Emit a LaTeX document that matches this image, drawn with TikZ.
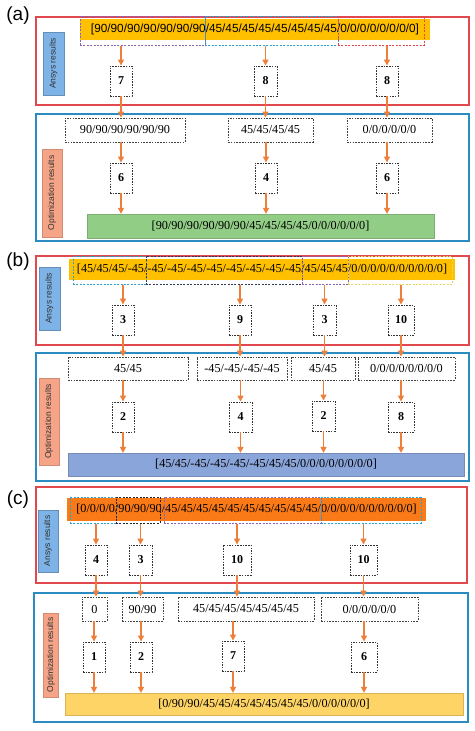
\documentclass[tikz,border=0pt]{standalone}
\usepackage{fontspec}
\setmainfont{Liberation Serif}
\newfontfamily\sansf{Liberation Sans}
\usetikzlibrary{arrows.meta}
\definecolor{frred}{HTML}{E2494E}
\definecolor{frblue}{HTML}{2A8CC0}
\definecolor{arrorange}{HTML}{EE7F3A}
\definecolor{barorange}{HTML}{FFC000}
\definecolor{bardeep}{HTML}{FA7A18}
\definecolor{bargreen}{HTML}{92CD86}
\definecolor{barblue}{HTML}{8AA5DA}
\definecolor{baryellow}{HTML}{FFD466}
\definecolor{lblblue}{HTML}{7DB3E6}
\definecolor{lblsalmon}{HTML}{F6A487}
\definecolor{dpurple}{HTML}{8A63B5}
\definecolor{dcyan}{HTML}{2AA4CC}
\definecolor{dred}{HTML}{E04650}
\definecolor{dnavy}{HTML}{30385A}
\definecolor{dyellow}{HTML}{E6D65A}
\tikzset{
  frame/.style={draw, rectangle, inner sep=0pt, line width=1.1pt},
  redframe/.style={frame, draw=frred},
  blueframe/.style={frame, draw=frblue, line width=1.3pt},
  bar/.style={rectangle, inner sep=0pt, font=\fontsize{12.2}{14}\selectfont},
  seg/.style={draw, rectangle, inner sep=0pt, line width=1pt, dash pattern=on 2pt off 1.4pt},
  numbox/.style={draw=black!80, rectangle, inner sep=0pt, line width=0.95pt, dash pattern=on 1.5pt off 1.2pt, font=\fontsize{12}{14}\selectfont\bfseries},
  rowbox/.style={draw=black!75, rectangle, inner sep=0pt, line width=0.9pt, dash pattern=on 1.6pt off 1.2pt, font=\fontsize{12.2}{14}\selectfont},
  lbl/.style={rectangle, inner sep=0pt, font=\sansf\fontsize{8.5}{10}\selectfont, text=black!80},
  ansys/.style={lbl, fill=lblblue, draw=lblblue!80!black, line width=0.3pt},
  optim/.style={lbl, fill=lblsalmon, draw=lblsalmon!85!black, line width=0.3pt},
  arr/.style={draw=arrorange, line width=1.4pt, -{Triangle[length=6pt,width=6pt,fill=arrorange]}},
  panel/.style={font=\sansf\fontsize{19}{22}\selectfont}
}
\begin{document}
\begin{tikzpicture}[x=1pt,y=-1pt]
\useasboundingbox (0,0) rectangle (474,731);
\fill[white] (0,0) rectangle (474,731);

% ================= (a) =================
\node[panel] (la) at (18,16) {(a)};
\node[redframe, minimum width=433, minimum height=88] (redA) at (252.5,61) {};
\node[bar, fill=barorange, minimum width=350, minimum height=21, font=\sansf\fontsize{11.8}{14}\selectfont] (barA) at (255,29.5) {[90/90/90/90/90/90/90/45/45/45/45/45/45/45/45/0/0/0/0/0/0/0/0]};
\node[seg, draw=dpurple, minimum width=125, minimum height=29] (dA1) at (142.5,30.5) {};
\node[seg, draw=dcyan, minimum width=133, minimum height=29] (dA2) at (271.5,30.5) {};
\node[seg, draw=dred, minimum width=86, minimum height=29] (dA3) at (381,30.5) {};
\node[ansys, minimum width=21, minimum height=63] (ansA) at (53.5,63.5) {\rotatebox{90}{Ansys results}};
\node[numbox, minimum width=22, minimum height=30] (sA1) at (121,81) {7};
\node[numbox, minimum width=23, minimum height=30] (sA2) at (265.5,81) {8};
\node[numbox, minimum width=22, minimum height=30] (sA3) at (387,81) {8};
\node[blueframe, minimum width=433, minimum height=127] (blueA) at (252.5,177.5) {};
\node[rowbox, minimum width=120, minimum height=24] (rA1) at (125,130) {90/90/90/90/90/90};
\node[rowbox, minimum width=85, minimum height=24] (rA2) at (270.5,130) {45/45/45/45};
\node[rowbox, minimum width=85, minimum height=24] (rA3) at (389.5,130) {0/0/0/0/0/0};
\node[optim, minimum width=20, minimum height=88] (optA) at (52,193) {\rotatebox{90}{Optimization results}};
\node[numbox, minimum width=22, minimum height=30] (tA1) at (121,178) {6};
\node[numbox, minimum width=22, minimum height=30] (tA2) at (266,178) {4};
\node[numbox, minimum width=22, minimum height=30] (tA3) at (387,178) {6};
\node[bar, fill=bargreen, draw=bargreen!85!black, line width=0.3pt, minimum width=347, minimum height=24] (grA) at (260.5,226) {[90/90/90/90/90/90/45/45/45/45/0/0/0/0/0/0]};
\foreach \d/\s/\r/\t in {dA1/sA1/rA1/tA1, dA2/sA2/rA2/tA2, dA3/sA3/rA3/tA3}{
  \draw[arr] (\s.north |- \d.south) -- (\s.north);
  \draw[arr] (\s.south) -- (\s.south |- \r.north);
  \draw[arr] (\t.north |- \r.south) -- (\t.north);
  \draw[arr] (\t.south) -- (\t.south |- grA.north);
}

% ================= (b) =================
\node[panel] (lb) at (18,262) {(b)};
\node[redframe, minimum width=433, minimum height=89] (redB) at (252.5,300.5) {};
\node[bar, fill=barorange, minimum width=386, minimum height=21] (barB) at (262,269.5) {[45/45/45/-45/-45/-45/-45/-45/-45/-45/-45/-45/45/45/45/0/0/0/0/0/0/0/0/0/0]};
\node[seg, draw=dcyan, minimum width=73, minimum height=28] (dB1) at (109.5,270) {};
\node[seg, draw=dnavy, minimum width=156, minimum height=28] (dB2) at (224,270) {};
\node[seg, draw=dpurple, minimum width=46, minimum height=28] (dB3) at (325,270) {};
\node[seg, draw=dyellow, minimum width=104, minimum height=28] (dB4) at (400,270) {};
\node[ansys, minimum width=21, minimum height=63] (ansB) at (49.5,298.5) {\rotatebox{90}{Ansys results}};
\node[numbox, minimum width=22, minimum height=30] (sB1) at (123,320) {3};
\node[numbox, minimum width=22, minimum height=30] (sB2) at (240,320) {9};
\node[numbox, minimum width=23, minimum height=30] (sB3) at (324.5,320) {3};
\node[numbox, minimum width=26, minimum height=30] (sB4) at (401,320) {10};
\node[blueframe, minimum width=433, minimum height=128] (blueB) at (252.5,417) {};
\node[rowbox, minimum width=120, minimum height=23] (rB1) at (128,368.5) {45/45};
\node[rowbox, minimum width=90, minimum height=23] (rB2) at (242,368.5) {-45/-45/-45/-45};
\node[rowbox, minimum width=64, minimum height=23] (rB3) at (323,368.5) {45/45};
\node[rowbox, minimum width=97, minimum height=23] (rB4) at (406.5,368.5) {0/0/0/0/0/0/0/0};
\node[optim, minimum width=20, minimum height=87] (optB) at (49,421.5) {\rotatebox{90}{Optimization results}};
\node[numbox, minimum width=22, minimum height=30] (tB1) at (123,417) {2};
\node[numbox, minimum width=23, minimum height=30] (tB2) at (240.5,417) {4};
\node[numbox, minimum width=23, minimum height=30] (tB3) at (323.5,416) {2};
\node[numbox, minimum width=26, minimum height=30] (tB4) at (401,417) {8};
\node[bar, fill=barblue, draw=barblue!85!black, line width=0.3pt, minimum width=396, minimum height=23] (blB) at (266,464.5) {[45/45/-45/-45/-45/-45/45/45/0/0/0/0/0/0/0/0]};
\foreach \d/\s/\r/\t in {dB1/sB1/rB1/tB1, dB2/sB2/rB2/tB2, dB3/sB3/rB3/tB3, dB4/sB4/rB4/tB4}{
  \draw[arr] (\s.north |- \d.south) -- (\s.north);
  \draw[arr] (\s.south) -- (\s.south |- \r.north);
  \draw[arr] (\t.north |- \r.south) -- (\t.north);
  \draw[arr] (\t.south) -- (\t.south |- blB.north);
}

% ================= (c) =================
\node[panel] (lc) at (18,500) {(c)};
\node[redframe, minimum width=431, minimum height=96] (redC) at (251.5,535) {};
\node[bar, fill=bardeep, minimum width=359, minimum height=23] (barC) at (246.5,509.5) {[0/0/0/0/90/90/90/45/45/45/45/45/45/45/45/45/45/0/0/0/0/0/0/0/0/0/0]};
\node[seg, draw=dcyan, minimum width=46, minimum height=26] (dC1) at (93,510) {};
\node[seg, draw=black!85, minimum width=44, minimum height=26] (dC2) at (138,510) {};
\node[seg, draw=dpurple, minimum width=157, minimum height=26] (dC3) at (242.5,510) {};
\node[seg, draw=dcyan, minimum width=100, minimum height=26] (dC4) at (371,510) {};
\node[ansys, minimum width=20, minimum height=62] (ansC) at (48,541) {\rotatebox{90}{Ansys results}};
\node[numbox, minimum width=22, minimum height=30] (sC1) at (96,560) {4};
\node[numbox, minimum width=23, minimum height=30] (sC2) at (140.5,560) {3};
\node[numbox, minimum width=28, minimum height=30] (sC3) at (237,560) {10};
\node[numbox, minimum width=27, minimum height=30] (sC4) at (363.5,560) {10};
\node[blueframe, minimum width=434, minimum height=129] (blueC) at (251,657.5) {};
\node[rowbox, minimum width=25, minimum height=24] (rC1) at (94.5,609) {0};
\node[rowbox, minimum width=41, minimum height=24] (rC2) at (142.5,609) {90/90};
\node[rowbox, minimum width=136, minimum height=24] (rC3) at (246,609) {45/45/45/45/45/45/45};
\node[rowbox, minimum width=97, minimum height=24] (rC4) at (369.5,609) {0/0/0/0/0/0};
\node[optim, minimum width=15, minimum height=84] (optC) at (51,655) {\rotatebox{90}{Optimization results}};
\node[numbox, minimum width=22, minimum height=30] (tC1) at (94,657) {1};
\node[numbox, minimum width=22, minimum height=30] (tC2) at (141,657) {2};
\node[numbox, minimum width=22, minimum height=30] (tC3) at (233,656) {7};
\node[numbox, minimum width=26, minimum height=30] (tC4) at (364,657) {6};
\node[bar, fill=baryellow, draw=baryellow!85!black, line width=0.3pt, minimum width=398, minimum height=22] (ylC) at (264,704) {[0/90/90/45/45/45/45/45/45/45/0/0/0/0/0/0]};
\foreach \d/\s/\r/\t in {dC1/sC1/rC1/tC1, dC2/sC2/rC2/tC2, dC3/sC3/rC3/tC3, dC4/sC4/rC4/tC4}{
  \draw[arr] (\s.north |- \d.south) -- (\s.north);
  \draw[arr] (\s.south) -- (\s.south |- \r.north);
  \draw[arr] (\t.north |- \r.south) -- (\t.north);
  \draw[arr] (\t.south) -- (\t.south |- ylC.north);
}
\end{tikzpicture}
\end{document}
